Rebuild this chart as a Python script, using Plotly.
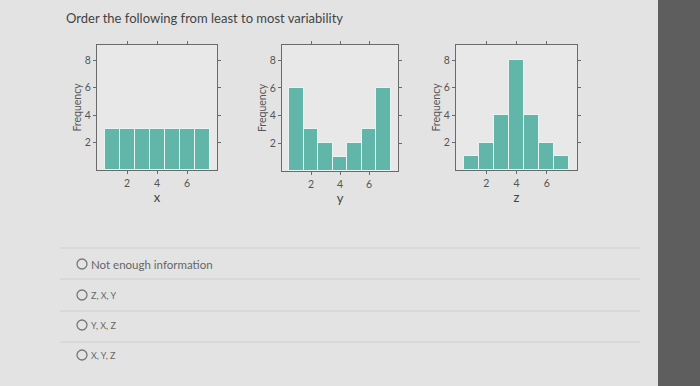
import plotly.graph_objects as go

bins = [1, 2, 3, 4, 5, 6, 7]
x_freq = [3, 3, 3, 3, 3, 3, 3]
y_freq = [6, 3, 2, 1, 2, 3, 6]
z_freq = [1, 2, 4, 8, 4, 2, 1]
var_names = ["x", "y", "z"]
x_ticks = [2, 4, 6]
y_ticks = [2, 4, 6, 8]
title_text = "Order the following from least to most variability"
options = ["Not enough information", "Z, X, Y", "Y, X, Z", "X, Y, Z"]

W, H = 700, 386
def px(v): return v / W
def py(v): return 1 - v / H

BAR = "#62b6a9"
AX = "#6a6a6a"
FONT = "Lato, Open Sans, sans-serif"

fig = go.Figure()
panels = [
    (x_freq, (97, 217), (45, 170)),
    (y_freq, (282, 398), (45, 171)),
    (z_freq, (456, 577), (45, 170)),
]
for i, (vals, (x0, x1), (y0, y1)) in enumerate(panels):
    k = "" if i == 0 else str(i + 1)
    fig.add_trace(go.Bar(x=bins, y=vals, width=1, marker=dict(color=BAR, line=dict(color="#e8f4f1", width=1)),
                         xaxis="x" + k, yaxis="y" + k, showlegend=False))
    common = dict(showline=True, linecolor=AX, linewidth=1, mirror="ticks", ticks="outside",
                  ticklen=3, tickcolor=AX, showgrid=False, zeroline=False,
                  tickfont=dict(family=FONT, size=10.5, color="#555"))
    fig.layout["xaxis" + k] = dict(domain=[px(x0), px(x1)], range=[0, 8], tickvals=x_ticks,
                                   anchor="y" + k,
                                   title=dict(text=var_names[i], font=dict(family=FONT, size=13, color="#444"), standoff=1),
                                   **common)
    fig.layout["yaxis" + k] = dict(domain=[py(y1), py(y0)], range=[0, 9.1], tickvals=y_ticks,
                                   anchor="x" + k,
                                   title=dict(text="Frequency", font=dict(family=FONT, size=10.5, color="#555"), standoff=1),
                                   **common)

shapes = []
# right screen bezel
shapes.append(dict(type="rect", xref="paper", yref="paper", x0=px(658), x1=1, y0=0, y1=1,
                   fillcolor="#5e5e5e", line=dict(width=0), layer="below"))
# separator lines
for yy in [248, 279, 311, 342]:
    shapes.append(dict(type="line", xref="paper", yref="paper", x0=px(60), x1=px(640), y0=py(yy), y1=py(yy),
                       line=dict(color="#cfcfcf", width=1)))
annotations = [dict(text=title_text, x=px(64), y=py(18), xref="paper", yref="paper", xanchor="left",
                    yanchor="middle", showarrow=False, font=dict(family=FONT, size=13, color="#444"))]
opt_y = [264, 295, 325, 355]
for t, yy in zip(options, opt_y):
    shapes.append(dict(type="circle", xref="paper", yref="paper", x0=px(77), x1=px(87), y0=py(yy + 5), y1=py(yy - 5),
                       line=dict(color="#777", width=1.3)))
    annotations.append(dict(text=t, x=px(89), y=py(yy), xref="paper", yref="paper", xanchor="left",
                            yanchor="middle", showarrow=False,
                            font=dict(family=FONT, size=11.5 if len(t) > 10 else 9, color="#666")))

fig.update_layout(width=W, height=H, margin=dict(l=0, r=0, t=0, b=0),
                  paper_bgcolor="#e3e3e3", plot_bgcolor="#e8e8e8", bargap=0,
                  shapes=shapes, annotations=annotations)
fig.write_html("out.html", config={"displayModeBar": False},
               post_script="document.body.style.margin='0';document.body.style.background='#e3e3e3';")
